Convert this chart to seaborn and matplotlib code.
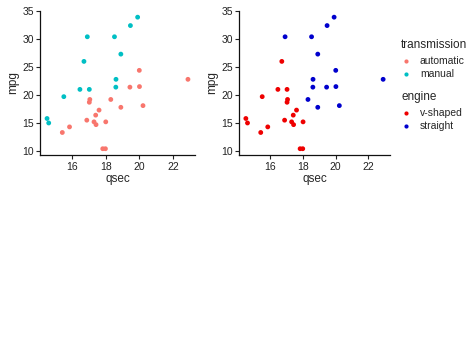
import matplotlib
matplotlib.use("Agg")
import matplotlib.pyplot as plt
from matplotlib.lines import Line2D
import seaborn as sns
import pandas as pd

qsec = [16.46, 17.02, 18.61, 19.44, 17.02, 20.22, 15.84, 20.00, 22.90, 18.30, 18.90,
        17.40, 17.60, 18.00, 17.98, 17.82, 17.42, 19.47, 18.52, 19.90, 20.01, 16.87,
        17.30, 15.41, 17.05, 18.90, 16.70, 16.90, 14.50, 15.50, 14.60, 18.60]
mpg = [21.0, 21.0, 22.8, 21.4, 18.7, 18.1, 14.3, 24.4, 22.8, 19.2, 17.8,
       16.4, 17.3, 15.2, 10.4, 10.4, 14.7, 32.4, 30.4, 33.9, 21.5, 15.5,
       15.2, 13.3, 19.2, 27.3, 26.0, 30.4, 15.8, 19.7, 15.0, 21.4]
vs = [0, 0, 1, 1, 0, 1, 0, 1, 1, 1, 1, 0, 0, 0, 0, 0, 0, 1, 1, 1, 1, 0, 0, 0, 0, 1, 0, 1, 0, 0, 0, 1]
am = [1, 1, 1, 0, 0, 0, 0, 0, 0, 0, 0, 0, 0, 0, 0, 0, 0, 1, 1, 1, 0, 0, 0, 0, 0, 1, 1, 1, 1, 1, 1, 1]

trans_labels = ["automatic", "manual"]
engine_labels = ["v-shaped", "straight"]
trans_colors = ["#F8766D", "#00BFC4"]
engine_colors = ["#EE0000", "#0000CD"]

df = pd.DataFrame({
    "qsec": qsec, "mpg": mpg,
    "transmission": [trans_labels[a] for a in am],
    "engine": [engine_labels[v] for v in vs],
})

sns.set_style("ticks")
plt.rcParams["font.family"] = ["Liberation Sans", "DejaVu Sans"]

W, H = 474, 338
fig = plt.figure(figsize=(W / 100, H / 100), dpi=100)

def add_ax(x0, x1, y0, y1):
    return fig.add_axes([x0 / W, 1 - y1 / H, (x1 - x0) / W, (y1 - y0) / H])

ax1 = add_ax(40, 195, 10.6, 155.3)
ax2 = add_ax(239, 390, 10.6, 155.3)

for ax, hue, labels, colors in [(ax1, "transmission", trans_labels, trans_colors),
                                (ax2, "engine", engine_labels, engine_colors)]:
    sns.scatterplot(data=df, x="qsec", y="mpg", hue=hue, hue_order=labels,
                    palette=colors, s=12, linewidth=0, ax=ax, legend=False)
    ax.set_xlim(14.08, 23.32)
    ax.set_ylim(9.225, 35.075)
    ax.set_xticks([16, 18, 20, 22])
    ax.set_yticks([10, 15, 20, 25, 30, 35])
    ax.tick_params(labelsize=7.5, colors="#222222", length=3, width=0.8, pad=1.5)
    ax.set_xlabel("qsec", fontsize=8.5, labelpad=1)
    ax.set_ylabel("mpg", fontsize=8.5, labelpad=2)
    for s in ["top", "right"]:
        ax.spines[s].set_visible(False)
    for s in ["left", "bottom"]:
        ax.spines[s].set_linewidth(0.9)
        ax.spines[s].set_color("#111111")

def make_legend(title, labels, colors, y):
    handles = [Line2D([], [], marker="o", linestyle="", markersize=3.0,
                      markerfacecolor=c, markeredgewidth=0) for c in colors]
    leg = fig.legend(handles, labels, title=title, loc="upper left",
                     bbox_to_anchor=(397 / W, 1 - y / H), frameon=False,
                     fontsize=7.5, title_fontsize=8.5, handlelength=1.0,
                     handletextpad=0.8, labelspacing=0.3, borderaxespad=0)
    leg._legend_box.align = "left"
    leg._legend_box.sep = 4
    return leg

make_legend("transmission", trans_labels, trans_colors, 34.5)
make_legend("engine", engine_labels, engine_colors, 86.5)

fig.savefig("out.png", dpi=100, facecolor="white")
